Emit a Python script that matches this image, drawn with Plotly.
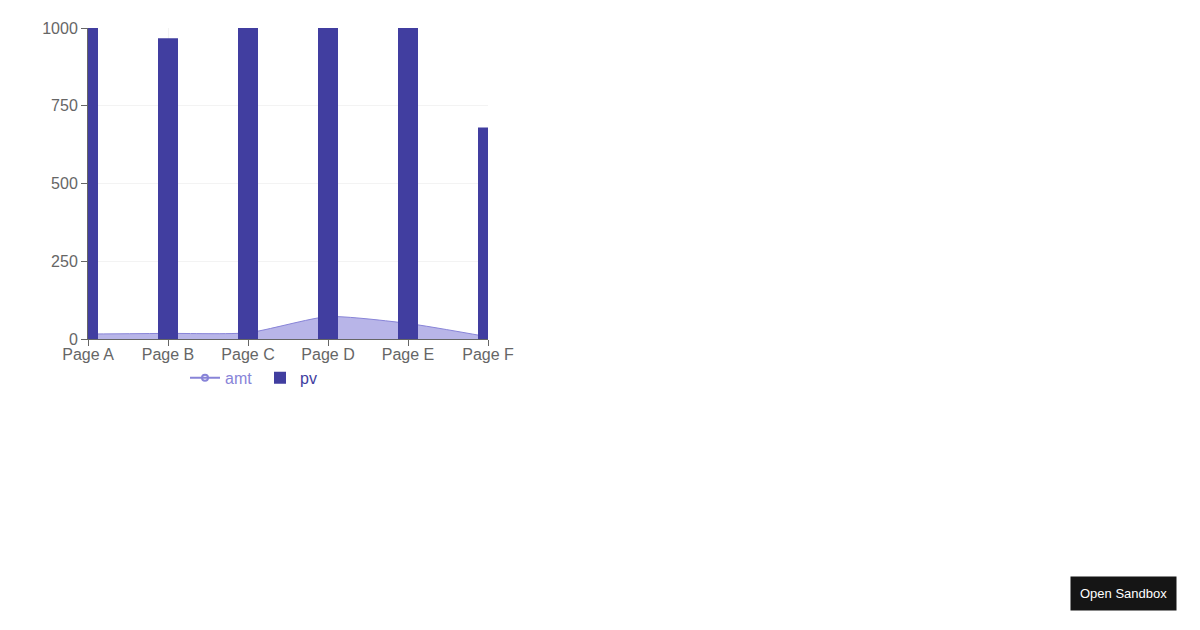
import plotly.graph_objects as go

# data (pv bars above 1000 are clipped by the axis)
pages = ["Page A", "Page B", "Page C", "Page D", "Page E", "Page F"]
pv = [1200, 967, 1400, 1300, 1150, 680]
amt = [16, 18, 20, 72, 50, 7]

fig = go.Figure()

# area (amt) on the base axis so the bars can sit above it
fig.add_trace(go.Scatter(
    x=pages, y=amt, mode="lines", fill="tozeroy",
    line=dict(color="#8884d8", width=1, shape="spline", smoothing=0.6),
    fillcolor="rgba(136,132,216,0.6)", showlegend=False, hoverinfo="skip",
))
# legend-only entry for amt (line with open circle)
fig.add_trace(go.Scatter(
    x=[None], y=[None], mode="lines+markers",
    name="<span style='color:#8884d8'>amt</span>",
    line=dict(color="#8884d8", width=2),
    marker=dict(symbol="circle-open", size=6, color="#8884d8", line=dict(width=2)),
))
fig.add_trace(go.Bar(
    x=pages, y=pv, width=0.25, marker_color="#413ea0", marker_line_width=0,
    name="<span style='color:#413ea0'>pv</span>", yaxis="y2",
))

fig.update_layout(
    width=1184, height=614,
    margin=dict(l=80, r=704, t=20, b=283),
    plot_bgcolor="white", paper_bgcolor="white",
    font=dict(family="Liberation Sans, Arial, sans-serif", size=16, color="#666"),
    xaxis=dict(
        type="category", range=[0, 5], showline=True, linecolor="#666",
        ticks="outside", ticklen=6, tickcolor="#666", ticklabelstandoff=-5,
        showgrid=True, gridcolor="#f3f3f3", zeroline=False,
    ),
    yaxis=dict(
        range=[0, 1000], tickvals=[0, 250, 500, 750, 1000],
        showline=True, linecolor="#666", ticks="outside", ticklen=6, tickcolor="#666",
        showgrid=True, gridcolor="#f3f3f3", zeroline=False,
    ),
    yaxis2=dict(
        range=[0, 1000], overlaying="y", showgrid=False, showticklabels=False,
        zeroline=False, showline=False,
    ),
    legend=dict(
        orientation="h", x=0.43, xanchor="center", y=-0.07, yanchor="top",
        font=dict(size=16), itemwidth=30, traceorder="normal",
        bgcolor="rgba(0,0,0,0)", entrywidth=30, entrywidthmode="pixels",
    ),
    annotations=[dict(
        text="Open Sandbox", xref="paper", yref="paper",
        x=(1169 - 80) / 400, y=-(603 - 331) / 311, xanchor="right", yanchor="bottom",
        showarrow=False, bgcolor="#151515", borderpad=9,
        font=dict(color="white", size=13, family="Liberation Sans, Arial, sans-serif"),
    )],
)

fig.write_html("out.html")
